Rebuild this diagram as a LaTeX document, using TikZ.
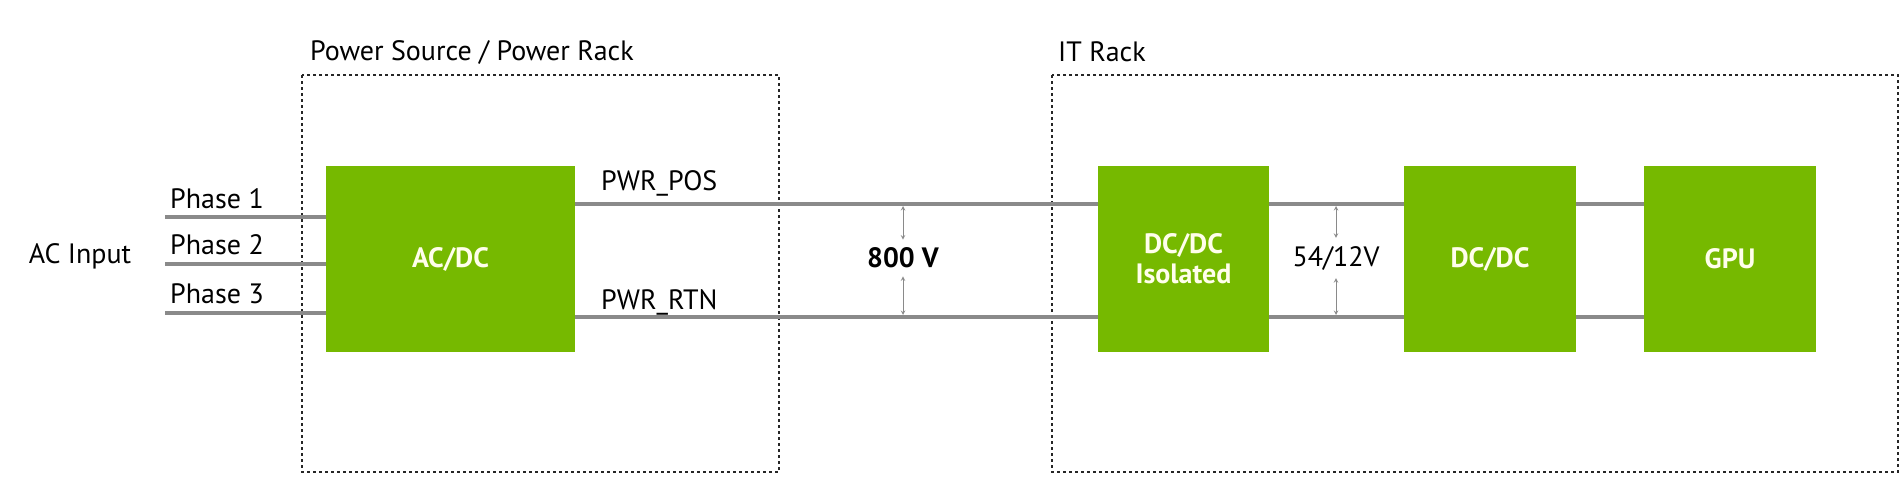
\documentclass[tikz,border=0pt]{standalone}
\usepackage{fontspec}
\setmainfont{PT Sans}
\begin{document}
\definecolor{nv}{HTML}{76B900}
\definecolor{wire}{HTML}{8A8A8A}
\begin{tikzpicture}[x=1pt,y=-1pt,
  blk/.style={fill=nv,draw=none,text=white!92!yellow,font=\fontsize{28}{30}\selectfont\bfseries,align=center,inner sep=0},
  lbl/.style={font=\fontsize{28}{30}\selectfont,inner sep=0},
  wr/.style={draw=wire,line width=3.5pt},
  dim/.style={draw=wire,line width=1pt,<->,>=stealth},
  grp/.style={draw=black!85,dashed,line width=1.3pt}]
\useasboundingbox (0,0) rectangle (1904,490);
\draw[grp] (302,75) rectangle (779,472);
\draw[grp] (1052,75) rectangle (1898,472);
\node[lbl,anchor=west] (t1) at (310,52) {Power Source / Power Rack};
\node[lbl,anchor=west] (t2) at (1058,52) {IT Rack};
\path[blk] (326,166) rectangle (575,352); \node[blk] (ac) at (450.5,259) {AC/DC};
\path[blk] (1098,166) rectangle (1269,352); \node[blk] (iso) at (1183.5,259) {DC/DC\\Isolated};
\path[blk] (1404,166) rectangle (1576,352); \node[blk] (dc) at (1490,259) {DC/DC};
\path[blk] (1644,166) rectangle (1816,352); \node[blk] (gpu) at (1730,259) {GPU};
\coordinate (p1) at (165,217); \coordinate (p2) at (165,264); \coordinate (p3) at (165,313);
\draw[wr] (p1) -- (326,217); \draw[wr] (p2) -- (326,264); \draw[wr] (p3) -- (326,313);
\node[lbl,anchor=west] at (170,199) {Phase 1};
\node[lbl,anchor=west] at (170,245) {Phase 2};
\node[lbl,anchor=west] at (170,294) {Phase 3};
\node[lbl] at (80,256) {AC Input};
\draw[wr] (575,204) -- (1098,204); \draw[wr] (575,317) -- (1098,317);
\draw[wr] (1269,204) -- (1404,204); \draw[wr] (1269,317) -- (1404,317);
\draw[wr] (1576,204) -- (1644,204); \draw[wr] (1576,317) -- (1644,317);
\node[lbl,anchor=west] at (601,183) {PWR\_POS};
\node[lbl,anchor=west] at (601,302) {PWR\_RTN};
\node[lbl,font=\fontsize{28}{30}\selectfont\bfseries] (v8) at (903,258) {800 V};
\draw[dim] (v8.north) ++(0,-8) -- (903,206);
\draw[dim] (v8.south) ++(0,8) -- (903,315);
\node[lbl] (v5) at (1336,258) {54/12V};
\draw[dim] (v5.north) ++(0,-8) -- (1336,206);
\draw[dim] (v5.south) ++(0,8) -- (1336,315);
\end{tikzpicture}
\end{document}
